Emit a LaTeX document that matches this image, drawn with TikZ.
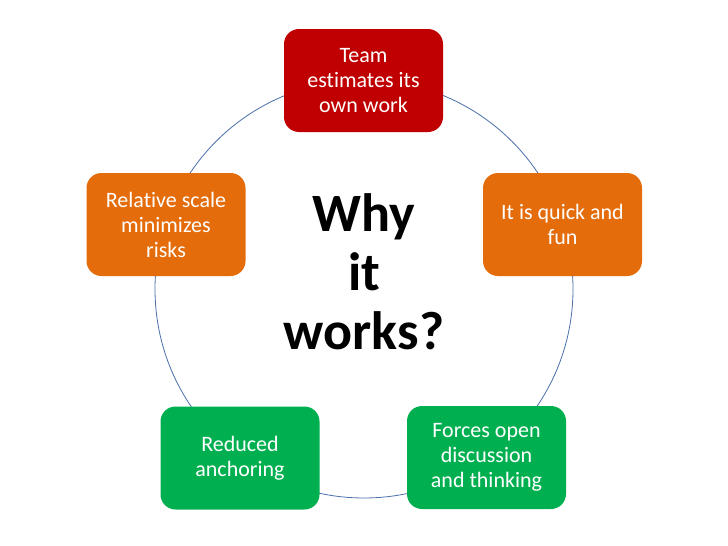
\documentclass[tikz,border=0pt]{standalone}
\usepackage{fontspec}
\setmainfont{Carlito}[RawFeature=-liga]
\definecolor{cred}{RGB}{192,0,0}
\definecolor{corange}{RGB}{228,108,10}
\definecolor{cgreen}{RGB}{0,176,80}
\definecolor{cline}{RGB}{74,112,170}
\begin{document}
\begin{tikzpicture}[x=1pt,y=-1pt,
  box/.style={rounded corners=15pt, minimum width=159pt, minimum height=103pt,
    inner sep=0pt, text=white, align=center,
    font=\fontsize{22}{25}\selectfont},
  ring/.style={draw=cline, line width=0.8pt}]
\useasboundingbox (0,0) rectangle (728,546);
\fill[white] (0,0) rectangle (728,546);
\coordinate (c) at (364,289);
\draw[ring] (c) circle[radius=209pt];
\node[box, fill=cred] (top) at (363.5,80.5) {Team\\estimates its\\own work};
\node[box, fill=corange] (left) at (166,224.5) {Relative scale\\minimizes\\risks};
\node[box, fill=corange] (right) at (562.5,224.5) {It is quick and\\fun};
\node[box, fill=cgreen] (bl) at (240,458) {Reduced\\anchoring};
\node[box, fill=cgreen] (br) at (486.5,457.5) {Forces open\\discussion\\and thinking};
\node[align=center, font=\fontsize{54}{59}\selectfont\bfseries] (why) at (364,272) {Why\\it\\works?};
\end{tikzpicture}
\end{document}
